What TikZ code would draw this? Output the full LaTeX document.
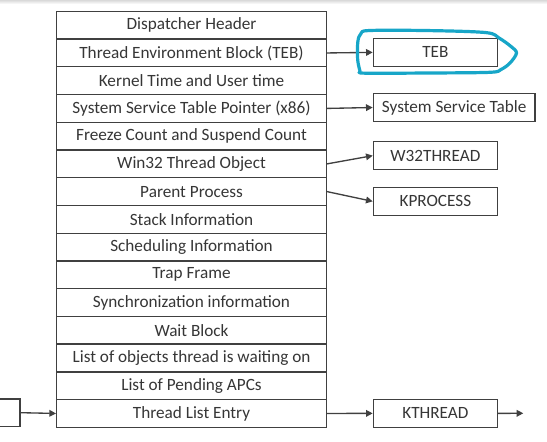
\documentclass[tikz,border=0pt]{standalone}
\usepackage{fontspec}
\setmainfont{Carlito}
\usetikzlibrary{arrows.meta,calc}
\definecolor{linec}{HTML}{404040}
\definecolor{textc}{HTML}{363636}
\definecolor{hlc}{HTML}{17A6C8}
\begin{document}
\begin{tikzpicture}[x=0.75pt,y=-0.75pt,
  row/.style={draw=linec, line width=1pt, minimum width=202.3pt, minimum height=20.8pt,
    inner sep=0pt, anchor=north west, text=textc, font=\fontsize{12.9}{14}\selectfont},
  extbox/.style={draw=linec, line width=1pt, minimum width=93pt, minimum height=21pt,
    inner sep=0pt, anchor=north west, text=textc, font=\fontsize{12.9}{14}\selectfont},
  arr/.style={draw=linec, line width=1pt, -{Triangle[length=5pt,width=5pt]}},
  hl/.style={draw=hlc, line width=2.4pt, line cap=round, line join=round}]
\useasboundingbox (0,0) rectangle (547,442);
\clip (0,0) rectangle (547,442);
\fill[white] (0,0) rectangle (547,442);
\shade[top color=gray!30, bottom color=white] (0,0) rectangle (547,4);
\foreach \i/\t in {1/Dispatcher Header,2/Thread Environment Block (TEB),3/Kernel Time and User time,
  4/System Service Table Pointer (x86),5/Freeze Count and Suspend Count,6/Win32 Thread Object,
  7/Parent Process,8/Stack Information,9/Scheduling Information,10/Trap Frame,
  11/Synchronization information,12/Wait Block,13/List of objects thread is waiting on,
  14/List of Pending APCs,15/Thread List Entry}
  \node[row] (r\i) at (56,{10.7+(\i-1)*27.73}) {\t};
\node[extbox] (teb) at (372.7,37.7) {TEB};
\node[extbox, minimum width=121.2pt, minimum height=21.2pt] (sst) at (372.7,92.7) {System Service Table};
\node[extbox] (w32) at (372.7,141) {W32THREAD};
\node[extbox] (kproc) at (372.7,186.7) {KPROCESS};
\node[extbox] (kthread) at (372.7,398.7) {KTHREAD};
\node[extbox, minimum width=44.5pt, minimum height=20.6pt] (prev) at (-40,398.3) {};
\coordinate (out) at (523.3,413.3);
\draw[arr] (r2.east) -- (teb.west);
\draw[arr] (r4.east) -- (sst.west);
\draw[arr] (r6.east) -- (w32.west);
\draw[arr] (r7.east) -- (kproc.west);
\draw[arr] (prev.east) -- (r15.west);
\draw[arr] (r15.east) -- (kthread.west);
\draw[arr] (kthread.east) -- (out);
\draw[hl] plot[smooth, tension=0.55] coordinates {(360,71) (357.7,60) (357.8,42) (361,33.5) (370,30.5)
  (430,30.6) (486,32.6) (499,38) (511,46.5) (516.5,53) (510,63) (501,69.5) (490,72.3) (430,73) (366,73.2) (360,72)};
\end{tikzpicture}
\end{document}
